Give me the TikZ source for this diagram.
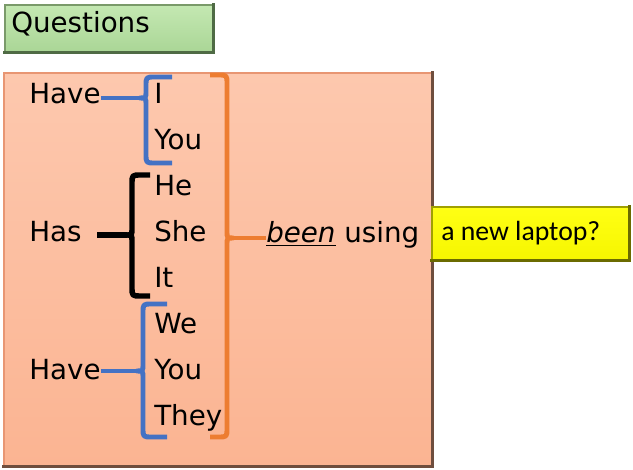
\documentclass[tikz,border=0pt]{standalone}
\usepackage{fontspec}
\setmainfont{DejaVu Sans}
\newfontfamily\calib{Carlito}
\definecolor{bluec}{RGB}{68,114,196}
\definecolor{orangec}{RGB}{237,125,49}
\definecolor{peachtop}{RGB}{253,200,174}
\definecolor{peachbot}{RGB}{251,180,146}
\definecolor{peachedge}{RGB}{232,150,115}
\definecolor{browndark}{RGB}{111,78,62}
\definecolor{greentop}{RGB}{196,232,178}
\definecolor{greenbot}{RGB}{170,214,150}
\definecolor{greenedge}{RGB}{122,154,106}
\definecolor{greendark}{RGB}{79,107,69}
\definecolor{yeltop}{RGB}{255,255,20}
\definecolor{yelbot}{RGB}{246,246,0}
\definecolor{yeledge}{RGB}{160,160,0}
\definecolor{yeldark}{RGB}{107,107,0}
\begin{document}
\begin{tikzpicture}[x=0.75pt,y=-0.75pt,
  txt/.style={font=\fontsize{20.8}{24}\selectfont, inner sep=0pt, anchor=base west},
  panel/.style={rectangle, inner sep=0pt, draw=#1edge, line width=0.8pt, top color=#1top, bottom color=#1bot},
  bevel/.style={draw=#1, line width=1.8pt, line cap=rect},
  bracestroke/.style={line width=3.7pt, line join=round, draw=#1},
  conn/.style={line width=3.7pt, draw=#1}]
\useasboundingbox (0,0) rectangle (633,470);

% boxes
\node[panel=green, minimum width=156pt, minimum height=35.25pt] (qbox) at (109,28.5) {};
\draw[bevel=greendark] (qbox.north east) -- (qbox.south east) -- (qbox.south west);
\node[panel=peach, minimum width=321pt, minimum height=294.75pt] (main) at (218,269.5) {};
\draw[bevel=browndark] (main.north east) -- (main.south east) -- (main.south west);
\node[panel=yel, minimum width=147.75pt, minimum height=39.75pt] (ybox) at (530.5,233.5) {};
\draw[bevel=yeldark] (ybox.north east) -- (ybox.south east) -- (ybox.south west);

% texts
\node[txt] (qt) at (11,33) {Questions};
\node[txt] (have1) at (29,104) {Have};
\node[txt] (i) at (154,104) {I};
\node[txt] (you1) at (154,150) {You};
\node[txt] (he) at (154,196) {He};
\node[txt] (she) at (154,242) {She};
\node[txt] (it) at (154,288) {It};
\node[txt] (has) at (29,242) {Has};
\node[txt] (we) at (154,334) {We};
\node[txt] (you2) at (154,380) {You};
\node[txt] (they) at (154,426) {They};
\node[txt] (have2) at (29,380) {Have};
\node[txt] (been) at (266,243) {\underline{\textit{been}} using};
\node[txt, font=\calib\fontsize{20.8}{24}\selectfont] (lap) at (441,241) {a new laptop?};

% braces
\coordinate (t1) at (140,98);
\draw[bracestroke=bluec] (172,77) -- (155,77) .. controls (146,77) .. (146,86) -- (146,91)
  .. controls (146,98) .. (t1) .. controls (146,98) .. (146,105) -- (146,154)
  .. controls (146,163) .. (155,163) -- (172,163);
\draw[conn=bluec] (have1.east |- t1) -- (t1);

\coordinate (t2) at (127,235);
\coordinate (h2) at (97,235);
\draw[bracestroke=black, line width=4.1pt] (150,175) -- (141,175) .. controls (132,175) .. (132,184) -- (132,228)
  .. controls (132,235) .. (t2) .. controls (132,235) .. (132,242) -- (132,287)
  .. controls (132,296) .. (141,296) -- (150,296);
\draw[conn=black, line width=4.1pt] (h2) -- (t2);

\coordinate (t3) at (137,371);
\draw[bracestroke=bluec] (167,304) -- (152,304) .. controls (143,304) .. (143,313) -- (143,364)
  .. controls (143,371) .. (t3) .. controls (143,371) .. (143,378) -- (143,428)
  .. controls (143,437) .. (152,437) -- (167,437);
\draw[conn=bluec] (have2.east |- t3) -- (t3);

\coordinate (t4) at (233,238);
\draw[bracestroke=orangec] (210,75) -- (218,75) .. controls (227,75) .. (227,84) -- (227,231)
  .. controls (227,238) .. (t4) .. controls (227,238) .. (227,245) -- (227,428)
  .. controls (227,437) .. (218,437) -- (210,437);
\draw[conn=orangec] (t4) -- (been.west |- t4);
\end{tikzpicture}
\end{document}
